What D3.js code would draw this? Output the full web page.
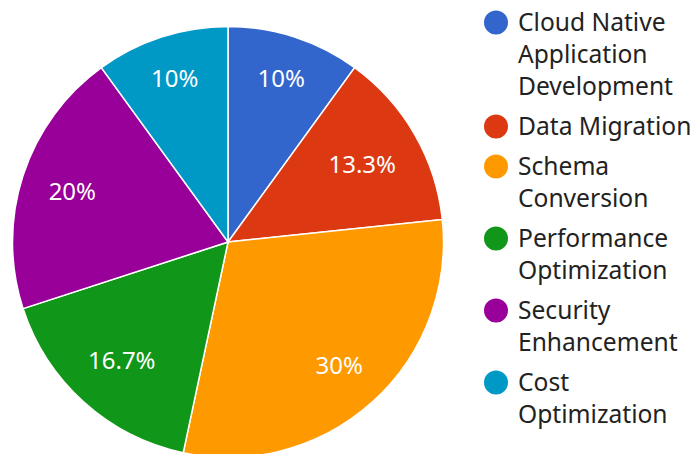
<!DOCTYPE html>
<html>
    <head>
        <meta charset="UTF-8">
        <script src="https://d3js.org/d3.v7.min.js"></script>
        <style>
            body { margin: 0; background: #fff; }
            text { font-family: "Noto Sans", "Open Sans", sans-serif; }
        </style>
    </head>

    <body>

        <svg id="canvas"></svg>

        <script>

            width = 693;
            height = 454;

            categories = ["Cloud Native Application Development", "Data Migration", "Schema Conversion",
                          "Performance Optimization", "Security Enhancement", "Cost Optimization"];
            values = [3, 4, 9, 5, 6, 3];
            colors = ["#3366cc", "#dc3912", "#ff9900", "#109618", "#990099", "#0099c6"];
            // legend wrapping as it appears in the picture
            legendLines = [
                ["Cloud Native", "Application", "Development"],
                ["Data Migration"],
                ["Schema", "Conversion"],
                ["Performance", "Optimization"],
                ["Security", "Enhancement"],
                ["Cost", "Optimization"]
            ];

            cx = 228;
            cy = 242;
            radius = 215.5;
            fontSize = 24;

            canvas = d3.select("#canvas")
                .attr("width", width)
                .attr("height", height);

            total = d3.sum(values);

            pie = d3.pie()
                .sort(null)
                .value( (d) => d );

            arc = d3.arc()
                .outerRadius(radius)
                .innerRadius(0);

            g = canvas.append("g")
                .attr("transform", "translate(" + cx + "," + cy + ")");

            slices = pie(values);

            g.selectAll("path")
                    .data(slices)
                .enter().append("path")
                    .attr("d", arc)
                    .attr("fill", (d, i) => colors[i])
                    .attr("stroke", "#fff")
                    .attr("stroke-width", 1.5);

            // labels: push the text box out along the mid angle until its
            // far corner sits at a fixed distance from the centre
            far = radius * 0.877;
            hh = fontSize * 0.375;
            g.selectAll("text.lbl")
                    .data(slices)
                .enter().append("text")
                    .attr("class", "lbl")
                    .attr("text-anchor", "middle")
                    .attr("dy", "0.36em")
                    .attr("fill", "#fff")
                    .attr("font-size", fontSize)
                    .text( (d) => (Math.round(d.value / total * 1000) / 10) + "%" )
                    .attr("transform", function(d) {
                        var a = (d.startAngle + d.endAngle) / 2;
                        var ux = Math.sin(a), uy = -Math.cos(a);
                        var hw = this.getComputedTextLength() / 2;
                        var b = Math.abs(ux) * hw + Math.abs(uy) * hh;
                        var c = hw * hw + hh * hh - far * far;
                        var r = -b + Math.sqrt(b * b - c);
                        return "translate(" + (r * ux) + "," + (r * uy) + ")";
                    });

            // legend
            legend = canvas.append("g");
            y = 31;
            legendLines.forEach(function(lines, i) {
                legend.append("circle")
                    .attr("cx", 496)
                    .attr("cy", y - 8.5)
                    .attr("r", 12)
                    .attr("fill", colors[i]);
                t = legend.append("text")
                    .attr("fill", "#222")
                    .attr("font-size", 24.6);
                lines.forEach(function(s, j) {
                    t.append("tspan")
                        .attr("x", 518)
                        .attr("y", y + j * 32)
                        .text(s);
                });
                y += (lines.length - 1) * 32 + 40;
            });

        </script>

    </body>

</html>
